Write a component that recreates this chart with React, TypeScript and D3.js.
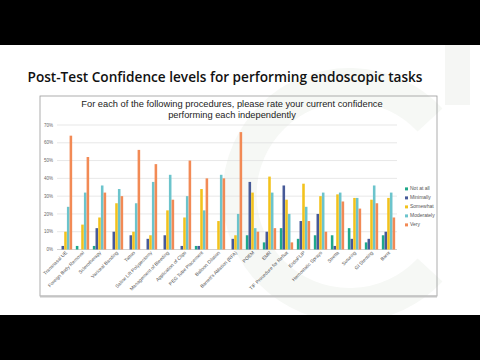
import React from "react";
import * as d3 from "d3";

const categories = [
  "Transnasal UE",
  "Foreign Body Removal",
  "Sclerotherapy",
  "Variceal Banding",
  "Tattoo",
  "Saline Lift Polypectomy",
  "Management of Bleeding",
  "Application of Clips",
  "PEG Tube Placement",
  "Balloon Dilation",
  "Barrett's Ablation (RFA)",
  "POEM",
  "EMR",
  "TIF Procedure for Reflux",
  "EndoFLIP",
  "Hemostatic Sprays",
  "Stretta",
  "Suturing",
  "GI Stenting",
  "Barrx",
];

const seriesNames = ["Not at all", "Minimally", "Somewhat", "Moderately", "Very"];
const seriesColors = ["#1fa88a", "#475a98", "#f3c21c", "#6cc4cc", "#f28a55"];

const notAtAll = [0, 2, 2, 0, 0, 0, 0, 0, 2, 0, 0, 8, 4, 12, 6, 8, 8, 12, 4, 8];
const minimally = [2, 0, 12, 10, 8, 6, 8, 2, 2, 0, 6, 38, 10, 36, 16, 20, 2, 6, 6, 10];
const somewhat = [10, 14, 18, 26, 10, 8, 22, 18, 34, 16, 8, 32, 41, 28, 37, 30, 31, 29, 28, 29];
const moderately = [24, 32, 36, 34, 26, 38, 42, 30, 22, 42, 20, 12, 32, 20, 24, 32, 32, 29, 36, 32];
const very = [64, 52, 32, 30, 56, 48, 28, 50, 40, 40, 66, 10, 12, 4, 16, 10, 27, 23, 26, 18];

const yTicks = [0, 10, 20, 30, 40, 50, 60, 70];

export default function App() {
  const W = 480;
  const H = 360;
  const series = [notAtAll, minimally, somewhat, moderately, very];

  const x0 = d3.scaleBand<string>().domain(categories).range([57, 397]).paddingInner(0.2).paddingOuter(0.1);
  const x1 = d3.scaleBand<number>().domain(d3.range(seriesNames.length)).range([0, x0.bandwidth()]).padding(0.05);
  const y = d3.scaleLinear().domain([0, 70]).range([249.5, 125]);

  return (
    <svg width={W} height={H} style={{ position: "fixed", left: 0, top: 0, background: "#fff" }}>
      <rect x={0} y={0} width={W} height={H} fill="#fff" />
      {/* faint watermark */}
      <g fill="none" stroke="#f6f8f5" strokeWidth={34}>
        <path d="M 430 120 A 110 110 0 1 0 430 270" />
      </g>
      <rect x={445} y={45} width={25} height={60} fill="#f5f6f4" />
      <rect x={0} y={0} width={W} height={45} fill="#000" />
      <rect x={0} y={315} width={W} height={45} fill="#000" />

      <text x={225} y={82} textAnchor="middle" fontFamily="'Open Sans', 'Noto Sans', sans-serif" fontWeight={600} fontSize={15} fill="#111" textLength={395} lengthAdjust="spacingAndGlyphs">
        Post-Test Confidence levels for performing endoscopic tasks
      </text>

      {/* chart box */}
      <rect x={40} y={96} width={397} height={200} fill="#fff" fillOpacity={0} stroke="#9a9a9a" strokeWidth={0.8} />
      <line x1={40} x2={437} y1={296.5} y2={296.5} stroke="#c4c4c4" strokeWidth={2} />

      <text x={232} y={107} textAnchor="middle" fontFamily="'Liberation Sans', Arial, sans-serif" fontSize={9.3} fill="#222">
        For each of the following procedures, please rate your current confidence
      </text>
      <text x={232} y={118} textAnchor="middle" fontFamily="'Liberation Sans', Arial, sans-serif" fontSize={9.3} fill="#222">
        performing each independently
      </text>

      {/* gridlines */}
      {yTicks.map((t) => (
        <g key={t}>
          <line x1={57} x2={397} y1={y(t)} y2={y(t)} stroke={t === 0 ? "#bdbdbd" : "#dcdcdc"} strokeWidth={0.7} />
          <text x={53} y={y(t) + 1.6} textAnchor="end" fontFamily="'Liberation Sans', Arial, sans-serif" fontSize={4.5} fill="#666">
            {t}%
          </text>
        </g>
      ))}

      {/* bars */}
      {categories.map((c, i) => (
        <g key={c} transform={`translate(${x0(c)},0)`}>
          {series.map((s, j) => (
            <rect key={j} x={x1(j)} y={y(s[i])} width={x1.bandwidth()} height={y(0) - y(s[i])} fill={seriesColors[j]} />
          ))}
        </g>
      ))}

      {/* category labels */}
      {categories.map((c) => {
        const cx = (x0(c) as number) + x0.bandwidth() / 2 + 2;
        const cy = 253;
        return (
          <text key={c} transform={`translate(${cx},${cy}) rotate(-45)`} textAnchor="end" fontFamily="'Liberation Sans', Arial, sans-serif" fontSize={4.8} fill="#555">
            {c}
          </text>
        );
      })}

      {/* legend */}
      {seriesNames.map((n, j) => (
        <g key={n} transform={`translate(405,${190 + j * 9})`}>
          <rect x={0} y={-2.6} width={3} height={3} fill={seriesColors[j]} />
          <text x={5} y={0.4} fontFamily="'Liberation Sans', Arial, sans-serif" fontSize={5} fill="#555">
            {n}
          </text>
        </g>
      ))}
    </svg>
  );
}
